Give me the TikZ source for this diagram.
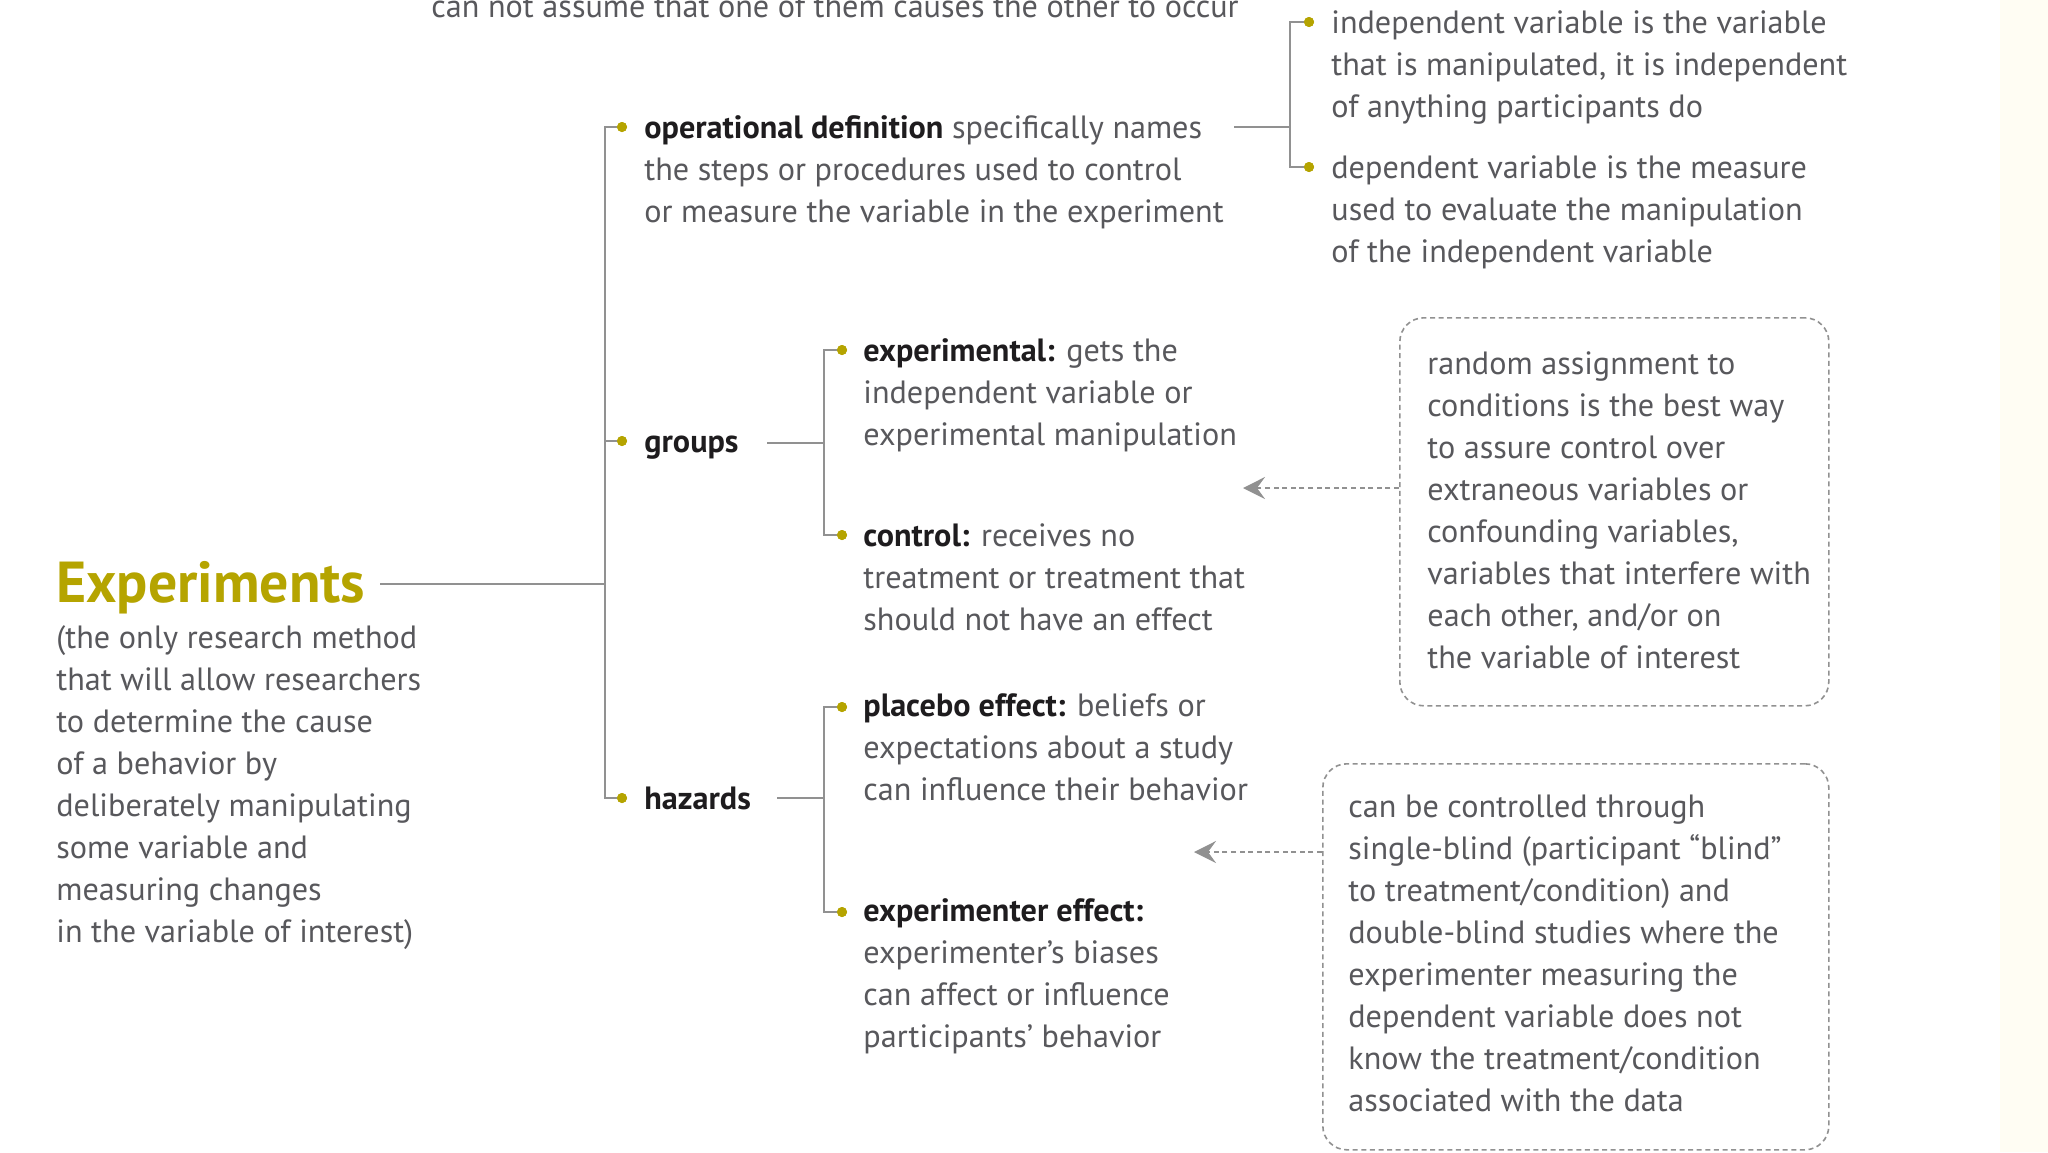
\documentclass[tikz,border=0pt]{standalone}
\usepackage{fontspec}
\setmainfont{PT Sans}
\usetikzlibrary{arrows.meta}
\definecolor{titleolive}{RGB}{181,164,0}
\definecolor{txtgray}{RGB}{88,88,92}
\definecolor{txtdark}{RGB}{30,28,30}
\definecolor{linegray}{RGB}{145,145,145}
\definecolor{creamstrip}{RGB}{255,253,243}
\newcommand{\bt}[1]{\textbf{\color{txtdark}#1}}
\begin{document}
\begin{tikzpicture}[x=0.5pt,y=-0.5pt,
  body/.style={anchor=north west, inner sep=0pt, align=left, text=txtgray, font=\fontsize{16.1}{21}\selectfont},
  conn/.style={draw=linegray, line width=1pt},
  bdot/.style={circle, fill=titleolive, inner sep=0pt, minimum size=5pt},
  dashbox/.style={draw=linegray, line width=0.8pt, dash pattern=on 2.5pt off 1.8pt, rounded corners=12pt, inner sep=0pt},
  dasharrow/.style={draw=linegray, line width=0.9pt, dash pattern=on 2.5pt off 1.8pt, -{Stealth[length=11pt,width=11pt,inset=4pt,fill=linegray]}}]
\useasboundingbox (0,0) rectangle (2048,1152);
\fill[white] (0,0) rectangle (2048,1152);
\fill[creamstrip] (2000,0) rectangle (2048,1152);

% top cut-off line (cut by the picture's top edge, as in the reference)
\node[anchor=base west, inner sep=0pt, text=txtgray, font=\fontsize{16.1}{21}\selectfont] (top) at (431,17) {can not assume that one of them causes the other to occur};

% title
\node[anchor=base west, inner sep=0pt, text=titleolive, font=\fontsize{28.9}{30}\selectfont\bfseries] (exp) at (56,602) {Experiments};
\node[body] (expdesc) at (56,618.5) {\strut(the only research method\\that will allow researchers\\to determine the cause\\of a behavior by\\deliberately manipulating\\some variable and\\measuring changes\\in the variable of interest)};

% level 1
\node[body] (opdef) at (644,108.5) {\strut\bt{operational definition} specifically names\\the steps or procedures used to control\\or measure the variable in the experiment};
\node[body] (groups) at (644,422.5) {\strut\bt{groups}};
\node[body] (hazards) at (644,779.5) {\strut\bt{hazards}};

% level 2
\node[body] (indep) at (1331,3.5) {\strut independent variable is the variable\\that is manipulated, it is independent\\of anything participants do};
\node[body] (dep) at (1331,148.5) {\strut dependent variable is the measure\\used to evaluate the manipulation\\of the independent variable};
\node[body] (experimental) at (863,331.5) {\strut\bt{experimental:} gets the\\independent variable or\\experimental manipulation};
\node[body] (control) at (863,516.5) {\strut\bt{control:} receives no\\treatment or treatment that\\should not have an effect};
\node[body] (placebo) at (863,686.5) {\strut\bt{placebo effect:} beliefs or\\expectations about a study\\can influence their behavior};
\node[body] (experimenter) at (863,891.5) {\strut\bt{experimenter effect:}\\experimenter’s biases\\can affect or influence\\participants’ behavior};

% dashed boxes
\node[dashbox, anchor=north west, minimum width=214.5pt, minimum height=194pt] (box1) at (1399,317) {};
\node[body] (box1txt) at (1427,344.5) {\strut random assignment to\\conditions is the best way\\to assure control over\\extraneous variables or\\confounding variables,\\variables that interfere with\\each other, and/or on\\the variable of interest};
\node[dashbox, anchor=north west, minimum width=253pt, minimum height=193pt] (box2) at (1322,763) {};
\node[body] (box2txt) at (1348,787.5) {\strut can be controlled through\\single-blind (participant “blind”\\to treatment/condition) and\\double-blind studies where the\\experimenter measuring the\\dependent variable does not\\know the treatment/condition\\associated with the data};

% coordinates
\coordinate (tr) at (605,584);
\coordinate (expR) at (380,584);
\coordinate (gv) at (824,443);
\coordinate (gR) at (767,443);
\coordinate (hv) at (824,798);
\coordinate (hR) at (777,798);
\coordinate (ov) at (1290,127);
\coordinate (oR) at (1234,127);
\coordinate (a1e) at (1243,488);
\coordinate (a2e) at (1194,852);

% bullets
\node[bdot] (dOp) at (622,127) {};
\node[bdot] (dGr) at (622,441) {};
\node[bdot] (dHz) at (622,798) {};
\node[bdot] (dIn) at (1309,22) {};
\node[bdot] (dDe) at (1309,167) {};
\node[bdot] (dEx) at (842,350) {};
\node[bdot] (dCo) at (842,535) {};
\node[bdot] (dPl) at (842,707) {};
\node[bdot] (dEr) at (842,912) {};

% connectors
\draw[conn] (expR) -- (tr);
\draw[conn] (dOp.center) -- (dOp -| tr) -- (dHz -| tr) -- (dHz.center);
\draw[conn] (dGr.center) -- (dGr -| tr);
\draw[conn] (gR) -- (gv);
\draw[conn] (dEx.center) -- (dEx -| gv) -- (dCo -| gv) -- (dCo.center);
\draw[conn] (hR) -- (hv);
\draw[conn] (dPl.center) -- (dPl -| hv) -- (dEr -| hv) -- (dEr.center);
\draw[conn] (oR) -- (ov);
\draw[conn] (dIn.center) -- (dIn -| ov) -- (dDe -| ov) -- (dDe.center);
% bullets on top of the ticks
\foreach \d in {dOp,dGr,dHz,dIn,dDe,dEx,dCo,dPl,dEr} {\fill[titleolive] (\d) circle (2.5pt);}

% dashed arrows
\draw[dasharrow] (a1e -| box1.west) -- (a1e);
\draw[dasharrow] (a2e -| box2.west) -- (a2e);
\end{tikzpicture}
\end{document}
